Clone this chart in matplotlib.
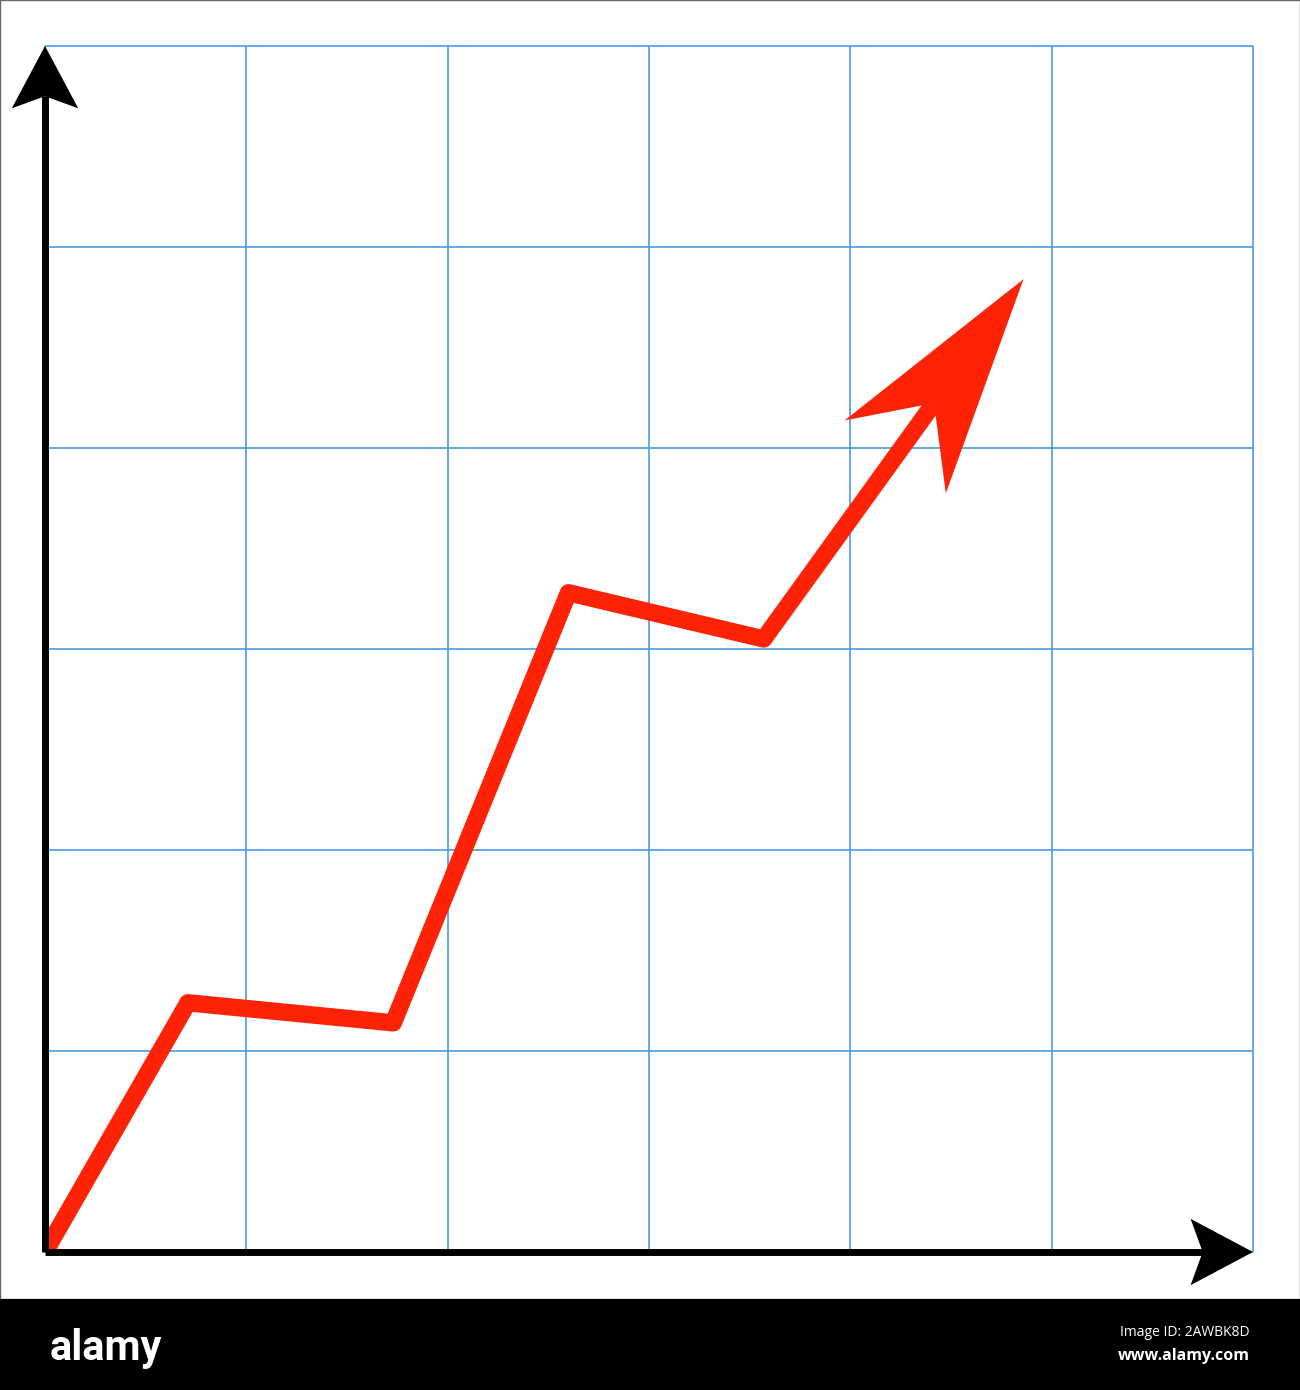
import numpy as np
import matplotlib
matplotlib.use('Agg')
import matplotlib.pyplot as plt
from matplotlib.patches import Polygon, Rectangle

# data (grid units)
x_vals = [0.0, 0.71, 1.73, 2.60, 3.57, 4.86]
y_vals = [0.0, 1.24, 1.14, 3.28, 3.05, 4.84]
grid_ticks = [0, 1, 2, 3, 4, 5, 6]

red = '#fe2306'
grid_blue = '#4a9be8'

W, H = 1300, 1390
fig = plt.figure(figsize=(W / 100, H / 100), dpi=100)
fig.patch.set_facecolor('white')

# axes placed so the 6x6 grid lands on the picture's grid
ax = fig.add_axes([45 / W, (H - 1252) / H, 1208 / W, 1206 / H])
ax.set_xlim(0, 6)
ax.set_ylim(0, 6)
ax.axis('off')

ax.vlines(grid_ticks, 0, 6, color=grid_blue, lw=1.2, zorder=1, clip_on=False)
ax.hlines(grid_ticks, 0, 6, color=grid_blue, lw=1.2, zorder=1, clip_on=False)


def head(tip, direction, length=0.31, half=0.165, notch=0.25):
    d = np.asarray(direction, float)
    d = d / np.hypot(*d)
    n = np.array([-d[1], d[0]])
    t = np.asarray(tip, float)
    base = t - d * length
    return [t, base + n * half, t - d * notch, base - n * half], t - d * notch


# black axes with arrow heads
for tip, dirn in [((6, 0), (1, 0)), ((0, 6), (0, 1))]:
    pts, back = head(tip, dirn)
    ax.plot([0, back[0]], [0, back[1]], color='black', lw=5,
            solid_capstyle='butt', zorder=4, clip_on=False)
    ax.add_patch(Polygon(pts, closed=True, color='black', lw=0, zorder=5,
                         clip_on=False))

# red trend line ending in an arrow head
tip = (x_vals[-1], y_vals[-1])
dirn = (x_vals[-1] - x_vals[-2], y_vals[-1] - y_vals[-2])
pts, back = head(tip, dirn, length=1.09, half=0.31, notch=0.76)
ax.plot(x_vals[:-1] + [back[0]], y_vals[:-1] + [back[1]], color=red, lw=12.5,
        solid_joinstyle='round', solid_capstyle='butt', zorder=3)
ax.add_patch(Polygon(pts, closed=True, color=red, lw=0, zorder=3))

# thin frame and black footer band
fig.patches.append(Rectangle((0, 91 / H), 1, 1 - 91 / H, transform=fig.transFigure,
                             fill=False, edgecolor='#666666', lw=1))
fig.patches.append(Rectangle((0, 0), 1, 91 / H, transform=fig.transFigure,
                             facecolor='black', edgecolor='none'))

fig.text(50 / W, (H - 1360) / H, 'alamy', color='white', fontsize=30,
         fontweight='bold', family=['Roboto', 'DejaVu Sans'],
         va='baseline', ha='left')
fig.text(1250 / W, (H - 1332) / H, 'Image ID: 2AWBK8D', color='white',
         fontsize=10, family=['Open Sans', 'DejaVu Sans'], va='center', ha='right')
fig.text(1250 / W, (H - 1356) / H, 'www.alamy.com', color='white', fontsize=11.5,
         fontweight='bold', family=['Open Sans', 'DejaVu Sans'],
         va='center', ha='right')

fig.savefig('out.png', dpi=100, facecolor='white')
